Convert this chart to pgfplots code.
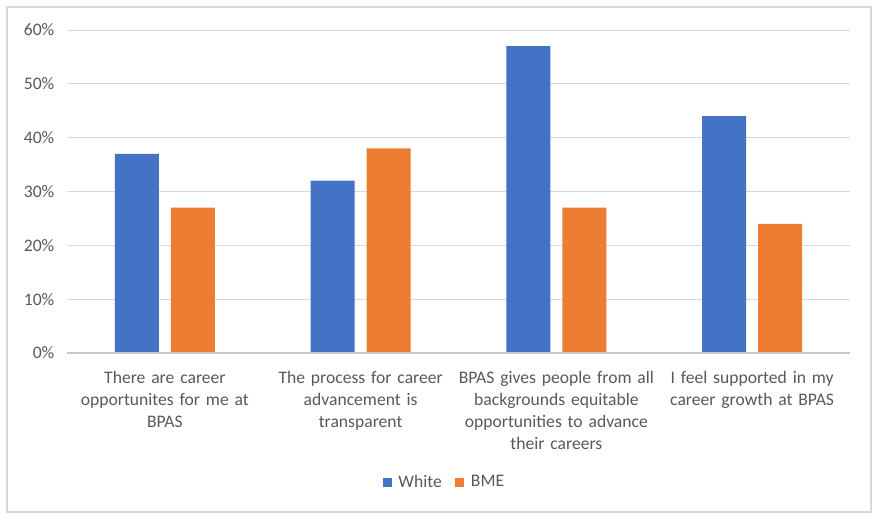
\documentclass[border=0pt]{standalone}
\usepackage{pgfplots}
\pgfplotsset{compat=1.18}
\usepackage{fontspec}
\setmainfont{Carlito}
\definecolor{cblue}{HTML}{4472C4}
\definecolor{corange}{HTML}{ED7D31}
\definecolor{ctext}{HTML}{595959}
\definecolor{cgrid}{HTML}{D9D9D9}
\newcommand{\nohyph}{\hyphenpenalty=10000\relax\exhyphenpenalty=10000\relax}
\begin{document}
\begin{tikzpicture}[x=0.75pt,y=0.75pt]
\useasboundingbox (0,0) rectangle (879,519);
\fill[white] (0,0) rectangle (879,519);
\draw[cgrid,line width=0.9pt] (7,7) rectangle (871,512);
\begin{axis}[
  at={(50.25pt,124.5pt)}, anchor=south west,
  scale only axis, width=587.25pt, height=242.25pt,
  xmin=0.5, xmax=4.5, ymin=0, ymax=60,
  ybar, bar width=33pt,
  axis line style={draw=none},
  ymajorgrids, grid style={cgrid,line width=0.75pt},
  ytick={0,10,...,60},
  yticklabel={\pgfmathprintnumber{\tick}\%},
  /pgf/number format/assume math mode=true,
  xtick={1,2,3,4},
  xticklabels={{There are career\\opportunites for me at\\BPAS},
    {The process for career\\advancement is\\transparent},
    {BPAS gives people from all\\backgrounds equitable\\opportunities to advance\\their careers},
    {I feel supported in my\\career growth at BPAS}},
  xticklabel style={text width=170pt, align=center, font={\fontsize{13.2}{16.5}\selectfont\nohyph}, text=ctext, yshift=-10pt},
  yticklabel style={font=\fontsize{13.2}{14}\selectfont, text=ctext, xshift=-6pt},
  major tick length=0pt,
  tick style={draw=none},
  legend style={at={(0.4825,-0.4)}, anchor=center, legend columns=2, draw=none,
    font=\fontsize{13.2}{14}\selectfont, text=ctext,
    /tikz/every even column/.append style={column sep=8pt}},
  legend image code/.code={\fill[#1] (0pt,-3.4pt) rectangle (6.8pt,3.4pt); \path (9.8pt,0pt);},
]
\addplot[fill=cblue, draw=none, bar shift=-21pt] coordinates {(1,37) (2,32) (3,57) (4,44)};
\addplot[fill=corange, draw=none, bar shift=21pt] coordinates {(1,27) (2,38) (3,27) (4,24)};
\draw[cgrid!80!gray, line width=0.9pt] (axis cs:0.5,0) -- (axis cs:4.5,0);
\legend{White, BME}
\end{axis}
\end{tikzpicture}
\end{document}
